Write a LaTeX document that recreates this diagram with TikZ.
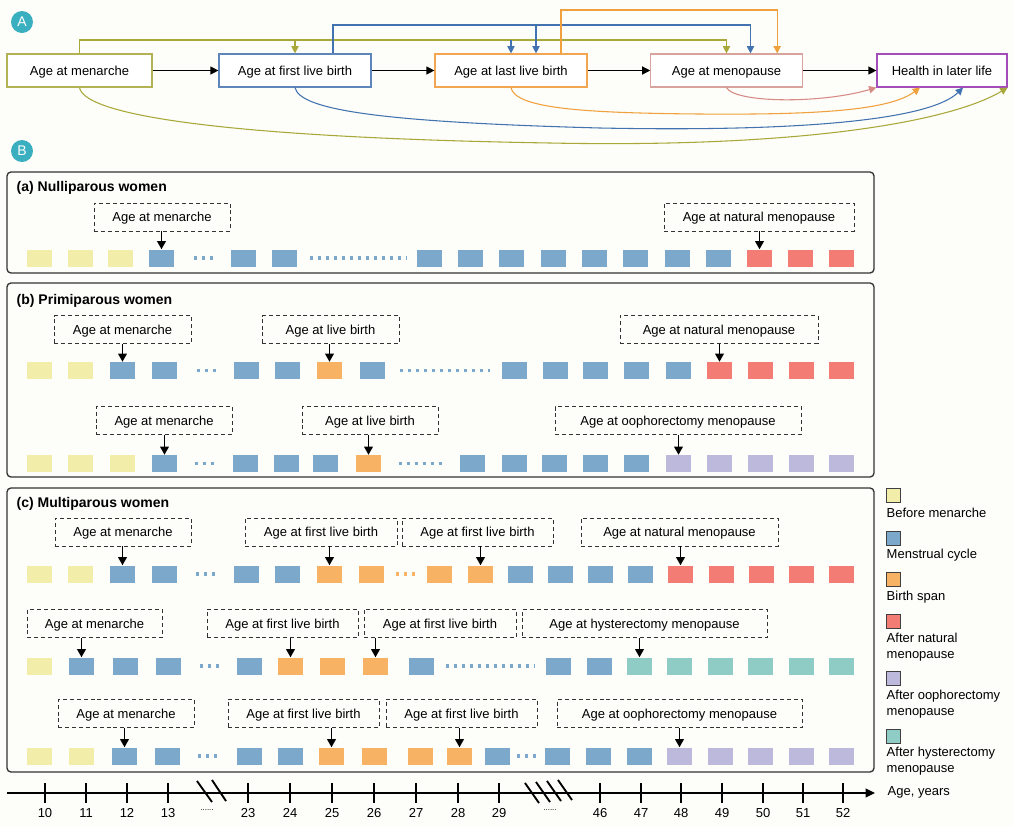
\documentclass[tikz,border=0pt]{standalone}
\usepackage{fontspec}
\setmainfont{Liberation Sans}
\usetikzlibrary{arrows.meta}
\definecolor{bg}{HTML}{FDFDF9}
\definecolor{cy}{HTML}{F3EDAA}
\definecolor{cb}{HTML}{7CA8CC}
\definecolor{co}{HTML}{F8B264}
\definecolor{cr}{HTML}{F37D74}
\definecolor{cp}{HTML}{BDB9DD}
\definecolor{ct}{HTML}{8ECCC5}
\definecolor{olv}{HTML}{A8A83A}
\definecolor{blu}{HTML}{4273B0}
\definecolor{orn}{HTML}{F0A03C}
\definecolor{pnk}{HTML}{D88A84}
\definecolor{menab}{HTML}{B3B355}
\definecolor{firstb}{HTML}{5E86BB}
\definecolor{lastb}{HTML}{F2A652}
\definecolor{menob}{HTML}{D9A39D}
\definecolor{healthb}{HTML}{A24DBA}
\definecolor{circc}{HTML}{3AAFBF}
\definecolor{frm}{HTML}{333333}
\tikzset{
  ctext/.style={text height=7pt, text depth=0pt},
  topbox/.style={draw, line width=0.9pt, minimum height=24.75pt, inner sep=0pt, fill=white, ctext},
  lbl/.style={draw=frm, dashed, dash pattern=on 3pt off 2.2pt, line width=0.7pt, minimum height=21pt, inner sep=0pt, ctext},
  sq/.style={minimum width=18.5pt, minimum height=12.75pt, inner sep=0pt, draw=none},
  lgsq/.style={minimum width=10.5pt, minimum height=10.5pt, inner sep=0pt, draw=black!75, line width=0.6pt},
  blk/.style={line width=0.9pt, -{Triangle[length=6pt,width=6pt]}},
  sarr/.style={line width=0.9pt, -{Triangle[length=6pt,width=6.5pt]}},
  cln/.style={line width=0.8pt, -{Triangle[length=5.5pt,width=5.5pt]}},
  dotl/.style={line width=2.4pt, dash pattern=on 2.3pt off 3.7pt},
  panel/.style={draw=frm, line width=1pt, rounded corners=3pt},
  circ/.style={circle, fill=circc, text=white, minimum size=16.5pt, inner sep=0pt, font=\fontsize{10.5}{12}\selectfont, ctext},
  ptitle/.style={anchor=west, font=\fontsize{10.5}{12}\selectfont\bfseries, ctext},
  axln/.style={line width=1.4pt},
}
\newcommand\sqrow[3]{%
  \foreach \xx/\cc [count=\ii] in {#3} {\node[sq, fill=\cc] (#1-\ii) at (\xx+12.5,#2) {};}}
\newcommand\lab[5]{\node[lbl, minimum width=#4*0.75pt] (#1) at (#2,#3) {#5};}
\begin{document}
\begin{tikzpicture}[x=0.75pt,y=-0.75pt,font=\fontsize{9.75}{11.5}\selectfont]
\fill[bg] (0,0) rectangle (1013,826);
\useasboundingbox (0,0) rectangle (1013,826);

% ---------- Section A ----------
\node[circ] (labA) at (22,22) {A};
\node[circ] (labB) at (22,151) {B};

\node[topbox, draw=menab, minimum width=108.75pt] (mena) at (79.5,70.5) {Age at menarche};
\node[topbox, draw=firstb, minimum width=114pt] (first) at (295,70.5) {Age at first live birth};
\node[topbox, draw=lastb, minimum width=114pt] (last) at (511,70.5) {Age at last live birth};
\node[topbox, draw=menob, minimum width=113.5pt] (meno) at (726.5,70.5) {Age at menopause};
\node[topbox, draw=healthb, minimum width=97.5pt] (health) at (942,70.5) {Health in later life};

\draw[blk] (mena) -- (first);
\draw[blk] (first) -- (last);
\draw[blk] (last) -- (meno);
\draw[blk] (meno) -- (health);

\coordinate (yO) at (0,40);
\coordinate (yB) at (0,25);
\coordinate (yR) at (0,10);
\coordinate (fB) at ([xshift=28.5pt]first.north);
\coordinate (lB) at ([xshift=18.75pt]last.north);
\coordinate (lO) at ([xshift=37.5pt]last.north);
\coordinate (mB) at ([xshift=18pt]meno.north);
\coordinate (mO) at ([xshift=38pt]meno.north);
\coordinate (hB) at ([xshift=15.75pt]health.south);
\coordinate (hO) at ([xshift=-16.5pt]health.south);

\draw[cln, color=olv] (mena.north) -- (mena.north |- yO) -| (meno.north);
\draw[cln, color=olv] (first.north |- yO) -- (first.north);
\draw[cln, color=blu] (last.north |- yO) -- (last.north);
\draw[cln, color=blu] (fB) -- (fB |- yB) -| (mB);
\draw[cln, color=blu] (lB |- yB) -- (lB);
\draw[cln, color=orn] (lO) -- (lO |- yR) -| (mO);

\draw[cln, color=olv] (mena.south) .. controls (85,118) and (250,138) .. (550,143) .. controls (800,148) and (950,122) .. (health.south east);
\draw[cln, color=blu] (first.south) .. controls (300,110) and (380,122) .. (600,128) .. controls (800,132) and (930,120) .. (hB);
\draw[cln, color=orn] (last.south) .. controls (515,108) and (580,113) .. (700,114) .. controls (820,115) and (890,110) .. (hO);
\draw[cln, color=pnk] (meno.south) .. controls (735,103) and (820,104) .. (health.south west);

% ---------- Panel (a) ----------
\draw[panel] (7,172) rectangle (874,273);
\node[ptitle] (ta) at (12,187) {(a) Nulliparous women};
\sqrow{ra}{258}{27/cy,68/cy,108/cy,149/cb,231/cb,272/cb,417/cb,458/cb,499/cb,541/cb,582/cb,623/cb,665/cb,706/cb,747/cr,788/cr,829/cr}
\draw[dotl, cb] (194,258) -- (215,258);
\draw[dotl, cb] (310,258) -- (407,258);
\lab{am}{162}{217}{136}{Age at menarche}
\lab{an}{759}{217}{190}{Age at natural menopause}
\draw[sarr] (am.south -| ra-4.north) -- (ra-4.north);
\draw[sarr] (an.south -| ra-15.north) -- (ra-15.north);

% ---------- Panel (b) ----------
\draw[panel] (7,283) rectangle (874,477);
\node[ptitle] (tb) at (12,300) {(b) Primiparous women};
\sqrow{rb}{370.5}{27/cy,68/cy,110/cb,152/cb,234/cb,275/cb,317/co,360/cb,502/cb,543/cb,583/cb,624/cb,666/cb,707/cr,748/cr,789/cr,829/cr}
\draw[dotl, cb] (197,370.5) -- (217,370.5);
\draw[dotl, cb] (400,370.5) -- (490,370.5);
\lab{bm}{122.5}{329.5}{137}{Age at menarche}
\lab{bl}{330.5}{329.5}{137}{Age at live birth}
\lab{bn}{719}{329.5}{198}{Age at natural menopause}
\draw[sarr] (bm.south -| rb-3.north) -- (rb-3.north);
\draw[sarr] (bl.south -| rb-7.north) -- (rb-7.north);
\draw[sarr] (bn.south -| rb-14.north) -- (rb-14.north);

\sqrow{rbb}{463.5}{27/cy,68/cy,110/cy,152/cb,233/cb,274/cb,313/cb,356/co,460/cb,502/cb,542/cb,583/cb,624/cb,666/cp,707/cp,748/cp,789/cp,829/cp}
\draw[dotl, cb] (195,463.5) -- (215,463.5);
\draw[dotl, cb] (399,463.5) -- (445,463.5);
\lab{bbm}{164}{420.5}{136}{Age at menarche}
\lab{bbl}{370}{420.5}{136}{Age at live birth}
\lab{bbo}{678}{420.5}{246}{Age at oophorectomy menopause}
\draw[sarr] (bbm.south -| rbb-4.north) -- (rbb-4.north);
\draw[sarr] (bbl.south -| rbb-8.north) -- (rbb-8.north);
\draw[sarr] (bbo.south -| rbb-14.north) -- (rbb-14.north);

% ---------- Panel (c) ----------
\draw[panel] (7,488) rectangle (874,772);
\node[ptitle] (tc) at (12,503) {(c) Multiparous women};
\sqrow{rc}{574}{27/cy,68/cy,110/cb,152/cb,234/cb,275/cb,317/co,359/co,427/co,468/co,508/cb,548/cb,588/cb,628/cb,668/cr,709/cr,749/cr,789/cr,829/cr}
\draw[dotl, cb] (196,574) -- (217,574);
\draw[dotl, co] (396,574) -- (417,574);
\lab{cm}{123}{532}{136}{Age at menarche}
\lab{cf}{321}{532}{152}{Age at first live birth}
\lab{cs}{477.5}{532}{151}{Age at first live birth}
\lab{cn}{679.5}{532}{197}{Age at natural menopause}
\draw[sarr] (cm.south -| rc-3.north) -- (rc-3.north);
\draw[sarr] (cf.south -| rc-7.north) -- (rc-7.north);
\draw[sarr] (cs.south -| rc-10.north) -- (rc-10.north);
\draw[sarr] (cn.south -| rc-15.north) -- (rc-15.north);

\sqrow{rcc}{666}{27/cy,69/cb,113/cb,156/cb,237/cb,278/co,320/co,363/co,409/cb,546/cb,587/cb,627/ct,667/ct,708/ct,748/ct,789/ct,829/ct}
\draw[dotl, cb] (200,666) -- (220,666);
\draw[dotl, cb] (446,666) -- (535,666);
\lab{ccm}{94.5}{623.5}{135}{Age at menarche}
\lab{ccf}{282.5}{623.5}{151}{Age at first live birth}
\lab{ccs}{440}{623.5}{152}{Age at first live birth}
\lab{cch}{644.5}{623.5}{245}{Age at hysterectomy menopause}
\draw[sarr] (ccm.south -| rcc-2.north) -- (rcc-2.north);
\draw[sarr] (ccf.south -| rcc-6.north) -- (rcc-6.north);
\draw[sarr] (ccs.south -| rcc-8.north) -- (rcc-8.north);
\draw[sarr] (cch.south -| rcc-12.north) -- (rcc-12.north);

\sqrow{rccc}{756}{27/cy,69/cy,112/cb,155/cb,237/cb,278/cb,319/co,362/co,408/co,447/co,485/cb,545/cb,586/cb,627/cb,667/cp,708/cp,748/cp,789/cp,829/cp}
\draw[dotl, cb] (198,756) -- (219,756);
\draw[dotl, cb] (517,756) -- (539,756);
\lab{cccm}{126}{713.5}{136}{Age at menarche}
\lab{cccf}{303.5}{713.5}{151}{Age at first live birth}
\lab{cccs}{461.5}{713.5}{151}{Age at first live birth}
\lab{ccco}{679.5}{713.5}{245}{Age at oophorectomy menopause}
\draw[sarr] (cccm.south -| rccc-3.north) -- (rccc-3.north);
\draw[sarr] (cccf.south -| rccc-7.north) -- (rccc-7.north);
\draw[sarr] (cccs.south -| rccc-10.north) -- (rccc-10.north);
\draw[sarr] (ccco.south -| rccc-15.north) -- (rccc-15.north);

% ---------- Legend ----------
\node[lgsq, fill=cy] (lg1) at (893,495.5) {};
\node[anchor=west] (lt1) at (882,513) {Before menarche};
\node[lgsq, fill=cb] (lg2) at (893,538) {};
\node[anchor=west] (lt2) at (882,555) {Menstrual cycle};
\node[lgsq, fill=co] (lg3) at (893,579.5) {};
\node[anchor=west] (lt3) at (882,597) {Birth span};
\node[lgsq, fill=cr] (lg4) at (893,621) {};
\node[anchor=west, align=left, font=\fontsize{9.75}{12}\selectfont] (lt4) at (882,647) {After natural\\menopause};
\node[lgsq, fill=cp] (lg5) at (893,678.5) {};
\node[anchor=west, align=left, font=\fontsize{9.75}{12}\selectfont] (lt5) at (882,704) {After oophorectomy\\menopause};
\node[lgsq, fill=ct] (lg6) at (893,736.5) {};
\node[anchor=west, align=left, font=\fontsize{9.75}{12}\selectfont] (lt6) at (882,761) {After hysterectomy\\menopause};

% ---------- Axis ----------
\coordinate (axL) at (7,793);
\coordinate (axR) at (875,793);
\draw[axln, -{Triangle[length=7pt,width=6.5pt]}] (axL) -- (axR);
\foreach \t/\l in {45/10,86/11,127/12,168/13,248/23,290/24,332/25,374/26,416/27,458/28,499/29,600/46,641/47,681/48,722/49,763/50,803/51,843/52}{
  \draw[axln] (\t,783) -- (\t,803);
  \node[ctext] (tk\l) at (\t,812.5) {\l};
}
\draw[axln] (197,781) -- (212,802);
\draw[axln] (212,780) -- (226,801);
\draw[axln] (525,783) -- (539,803);
\draw[axln] (536,782) -- (550,802);
\draw[axln] (547,781) -- (561,801);
\draw[axln] (558,780) -- (572,800);
\node[font=\fontsize{6}{7}\selectfont] (br1) at (207,810) {......};
\node[font=\fontsize{6}{7}\selectfont] (br2) at (550,810) {......};
\node[anchor=west, ctext] (axt) at (883,791) {Age, years};
\end{tikzpicture}
\end{document}
